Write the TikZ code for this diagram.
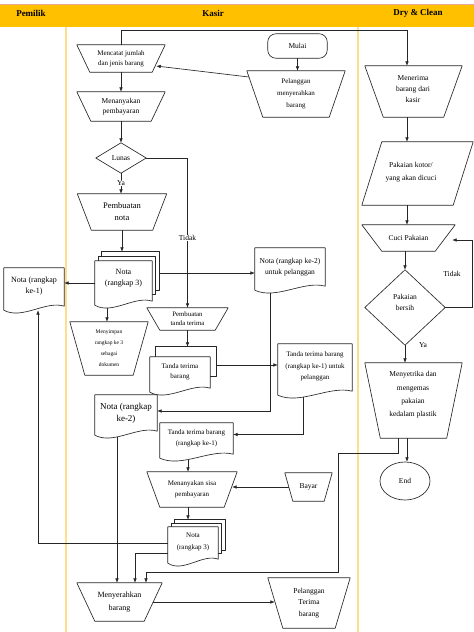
\documentclass[tikz,border=0pt]{standalone}
\usepackage{fontspec}
\setmainfont{Liberation Serif}
\usetikzlibrary{arrows.meta,calc}
\pgfdeclarelayer{bg}
\pgfsetlayers{bg,main}
\definecolor{hdr}{RGB}{255,192,0}
\definecolor{lanec}{RGB}{252,222,140}
\definecolor{topl}{RGB}{232,170,150}
\newcommand\fs[2]{\fontsize{#1}{#2}\selectfont}
\newcommand\trapo[2]{\draw[shp] (#1.north west) -- (#1.north east) -- ($(#1.south east)+(-#2,0)$) -- ($(#1.south west)+(#2,0)$) -- cycle;}
\newcommand\docshape[1]{%
  \path ($(#1.south east)!0.3!(#1.south west)$) coordinate (#1-wa)
        ($(#1.south east)!0.7!(#1.south west)$) coordinate (#1-wb);
  \draw[shp] (#1.south west) -- (#1.north west) -- (#1.north east) -- ($(#1.south east)+(0,-4)$)
    .. controls ($(#1-wa)+(0,-10)$) and ($(#1-wb)+(0,10)$) .. (#1.south west) -- cycle;}
\newcommand\backpage[3]{\draw[shp] ($(#1.north west)+(#2,#3)$) rectangle ($(#1.south east)+(#2,#3-6)$);}
\begin{document}
\begin{tikzpicture}[x=1pt,y=-1pt,
  shp/.style={draw=black!85, line width=0.65pt, fill=white, line join=round},
  ln/.style={draw=black!85, line width=0.65pt},
  arr/.style={ln, -{Latex[length=4.5pt,width=3.6pt]}},
  holder/.style={inner sep=0pt, align=center, text=black},
  lbl/.style={inner sep=0.8pt, font=\fs{7.5}{9}, fill=white},
  hd/.style={font=\bfseries\fs{9}{10}, inner sep=0pt}]

\useasboundingbox (0,0) rectangle (474,632);
\begin{pgfonlayer}{bg}
 \fill[white] (0,0) rectangle (474,632);
 \fill[hdr] (0,4) rectangle (474,27);
 \draw[topl, line width=0.8pt] (0,4) -- (474,4);
 \draw[lanec, line width=1.3pt] (66,27) -- (66,632);
 \draw[lanec, line width=1.3pt] (358,27) -- (358,632);
\end{pgfonlayer}

% headers
\node[hd] (hpemilik) at (31,13) {Pemilik};
\node[hd] (hkasir) at (213,13) {Kasir};
\node[hd] (hdry) at (418,13) {Dry \& Clean};

% Kasir
\node[holder, minimum width=88, minimum height=27, font=\fs{7}{10}] (mencatat) at (121,58.5) {Mencatat jumlah\\dan jenis barang};
\node[holder, minimum width=59, minimum height=24, font=\fs{7.5}{9}] (mulai) at (297.5,46) {Mulai};
\node[holder, minimum width=98, minimum height=46, font=\fs{7}{12}] (pel1) at (296,94) {Pelanggan\\menyerahkan\\barang};
\node[holder, minimum width=88, minimum height=29, font=\fs{7.5}{10.5}] (tanya) at (121,106.5) {Menanyakan\\pembayaran};
\node[holder, minimum width=50, minimum height=30, font=\fs{7.5}{9}] (lunas) at (121,158) {Lunas};
\node[holder, minimum width=89, minimum height=36, font=\fs{8.5}{12}] (pnota) at (122,212) {Pembuatan\\nota};
\node[holder, minimum width=57, minimum height=44] (nota3) at (123.5,283) {};
\node[holder, font=\fs{8}{11}] (nota3t) at (123.5,278) {Nota\\(rangkap 3)};
\node[holder, minimum width=60, minimum height=42] (nk1) at (34,289) {};
\node[holder, font=\fs{8}{11}] (nk1t) at (34,286) {Nota (rangkap\\ke-1)};
\node[holder, minimum width=70, minimum height=42] (nk2p) at (290,269) {};
\node[holder, font=\fs{7.5}{11}] (nk2pt) at (290,267) {Nota (rangkap ke-2)\\untuk pelanggan};
\node[holder, minimum width=78, minimum height=53, font=\fs{5.5}{11}] (simpan) at (109,348.5) {Menyimpan\\rangkap ke 3\\sebagai\\dokumen};
\node[holder, minimum width=81, minimum height=22, font=\fs{6.8}{9}] (ptt) at (187.5,319) {Pembuatan\\tanda terima};
\node[holder, minimum width=60, minimum height=35] (ttb) at (180,374.5) {};
\node[holder, font=\fs{7}{10}] (ttbt) at (180,372) {Tanda terima\\barang};
\node[holder, minimum width=74, minimum height=51] (ttb1p) at (315,369.5) {};
\node[holder, font=\fs{7}{11.5}] (ttb1pt) at (315,366.5) {Tanda terima barang\\(rangkap ke-1) untuk\\pelanggan};
\node[holder, minimum width=62, minimum height=40] (nk2) at (126,415) {};
\node[holder, font=\fs{9}{12}] (nk2t) at (126,413) {Nota (rangkap\\ke-2)};
\node[holder, minimum width=73, minimum height=35] (ttb1) at (196.5,440.5) {};
\node[holder, font=\fs{7}{11}] (ttb1t) at (196.5,438.5) {Tanda terima barang\\(rangkap ke-1)};
\node[holder, minimum width=90, minimum height=35, font=\fs{7}{11}] (sisa) at (192,489.5) {Menanyakan sisa\\pembayaran};
\node[holder, minimum width=47, minimum height=28, font=\fs{7.5}{9}] (bayar) at (308.5,487) {Bayar};
\node[holder, minimum width=50, minimum height=36] (nota3b) at (193,545) {};
\node[holder, font=\fs{7}{12}] (nota3bt) at (193,542) {Nota\\(rangkap 3)};
\node[holder, minimum width=85, minimum height=38, font=\fs{8}{13}] (serah) at (119.5,602) {Menyerahkan\\barang};
\node[holder, minimum width=82, minimum height=50, font=\fs{7.5}{11.5}] (terima) at (309,603) {Pelanggan\\Terima\\barang};

% Dry & Clean
\node[holder, minimum width=97, minimum height=51] (menerima) at (413.5,91.5) {};
\node[holder, font=\fs{7.5}{11}] (menerimat) at (413,89) {Menerima\\barang dari\\kasir};
\node[holder, minimum width=111, minimum height=63] (kotor) at (417.5,173.5) {};
\node[holder, font=\fs{7.5}{13}] (kotort) at (411,172) {Pakaian kotor/\\yang akan dicuci};
\node[holder, minimum width=93, minimum height=26, font=\fs{7.5}{9}] (cuci) at (408.5,238) {Cuci Pakaian};
\node[holder, minimum width=80, minimum height=75] (bersih) at (405,307.5) {};
\node[holder, font=\fs{7.5}{11.5}] (bersiht) at (405,302.5) {Pakaian\\bersih};
\node[holder, minimum width=97, minimum height=75] (setrika) at (413.5,400.5) {};
\node[holder, font=\fs{7.5}{13.3}] (setrikat) at (413,395) {Menyetrika dan\\mengemas\\pakaian\\kedalam plastik};
\node[holder, minimum width=50, minimum height=38, font=\fs{7.5}{9}] (fin) at (405,481) {End};

% shapes
\begin{pgfonlayer}{bg}
 \trapo{mencatat}{13}
 \trapo{pel1}{16}
 \trapo{tanya}{14}
 \trapo{pnota}{14}
 \trapo{simpan}{15}
 \trapo{ptt}{13}
 \trapo{sisa}{13}
 \trapo{bayar}{8}
 \trapo{serah}{18}
 \trapo{terima}{15}
 \trapo{menerima}{18.5}
 \trapo{cuci}{20}
 \trapo{setrika}{15.5}
 \draw[shp, rounded corners=8pt] (mulai.north west) rectangle (mulai.south east);
 \draw[shp] (lunas.north) -- (lunas.east) -- (lunas.south) -- (lunas.west) -- cycle;
 \draw[shp] (bersih.north) -- (bersih.east) -- (bersih.south) -- (bersih.west) -- cycle;
 \draw[shp] ($(kotor.north west)+(20,0)$) -- (kotor.north east) -- ($(kotor.south east)+(-20,0)$) -- (kotor.south west) -- cycle;
 \draw[shp] (fin.center) ellipse [x radius=25, y radius=19];
 \backpage{nota3}{7}{-9}
 \backpage{nota3}{3.5}{-4.5}
 \docshape{nota3}
 \backpage{ttb}{6}{-10}
 \docshape{ttb}
 \backpage{nota3b}{7}{-7}
 \backpage{nota3b}{3.5}{-3.5}
 \docshape{nota3b}
 \docshape{nk1}
 \docshape{nk2p}
 \docshape{ttb1p}
 \docshape{nk2}
 \docshape{ttb1}
\end{pgfonlayer}

% coordinates
\coordinate (ctop) at (407,30);
\coordinate (c1) at (338,453);
\coordinate (c2) at (338,572);
\coordinate (cR) at (472,240);
\coordinate (n3top) at ($(nota3.north)+(0,-9)$);
\coordinate (n3e) at ($(nota3.east)+(7,-10)$);
\coordinate (n3s) at ($(nota3.south)+(-16.5,2.7)$);
\coordinate (tttop) at ($(ttb.north)+(6,-10)$);
\coordinate (tte) at ($(ttb.east)+(6,-9.5)$);
\coordinate (t1s) at ($(ttb1.south)+(-8.5,1.5)$);
\coordinate (sisas) at ($(sisa.south)+(-4,0)$);
\coordinate (n3btop) at ($(nota3b.north)+(0,-7)$);
\coordinate (m1) at ($(menerima.south)+(-6.5,0)$);
\coordinate (k1) at ($(kotor.south)+(-10.5,0)$);
\coordinate (s1) at ($(setrika.south)+(-6.5,0)$);

% connectors Kasir
\draw[arr] (mencatat.north) |- (ctop) -- (menerima.north -| ctop);
\draw[arr] (mulai.south) -- (mulai.south |- pel1.north);
\draw[arr] ($(pel1.west)+(2,-17)$) -- ($(mencatat.east)+(-9,7.5)$);
\draw[arr] (mencatat.south) -- (tanya.north);
\draw[arr] (tanya.south) -- (lunas.north);
\draw[arr] (lunas.south) -- (lunas.south |- pnota.north);
\node[lbl] (ya1) at (121,183) {Ya};
\draw[arr] (lunas.east) -| (ptt.north);
\node[lbl] (tidak1) at (187.5,238) {Tidak};
\draw[arr] (pnota.south) -- (pnota.south |- n3top);
\draw[arr] (nota3.west) -- (nota3.west -| nk1.east);
\draw[arr] (n3e) -- (n3e -| nk2p.west);
\draw[arr] (n3s) -- (n3s |- simpan.north);
\draw[arr] (ptt.south) -- (ptt.south |- tttop);
\draw[arr] (tte) -- (tte -| ttb1p.west);
\draw[arr] ($(nk2p.south)+(-20,2.5)$) |- ($(nk2.east)+(0,-4)$);
\draw[arr] ($(ttb1p.south)+(-12,2)$) |- ($(ttb1.east)+(0,-6)$);
\draw[arr] (t1s) -- (t1s |- sisa.north);
\draw[arr] ($(bayar.west)+(4,0)$) -- ($(sisa.east)+(-5,-2.5)$);
\draw[arr] (sisas) -- (sisas |- n3btop);
\draw[arr] ($(nota3b.west)+(0,-2)$) -| ($(nk1.south)+(4,0)$);
\draw[arr] ($(nota3b.west)+(0,8)$) -| ($(serah.north)+(15.5,0)$);
\draw[arr] ($(nk2.south)+(-9,2)$) -- ($(serah.north)+(-2.5,0)$);
\draw[arr] ($(setrika.south)+(-15.5,0)$) |- (c1) -- (c2) -| ($(serah.north)+(26.5,0)$);
\draw[arr] ($(serah.east)+(-9,0)$) -- ($(serah.east -| terima.west)+(7,0)$);

% connectors Dry & Clean
\draw[arr] (m1) -- (m1 |- kotor.north);
\draw[arr] (k1) -- (k1 |- cuci.north);
\draw[arr] (bersih.north |- cuci.south) -- (bersih.north);
\draw[arr] (bersih.south) -- (bersih.south |- setrika.north);
\node[lbl, fill=none] (ya2) at (423,345) {Ya};
\draw[arr] (bersih.east) -| (cR) -- ($(cuci.east)+(-3,2)$);
\node[lbl, fill=none] (tidak2) at (452,274) {Tidak};
\draw[arr] (s1) -- (s1 |- fin.north);
\end{tikzpicture}
\end{document}
